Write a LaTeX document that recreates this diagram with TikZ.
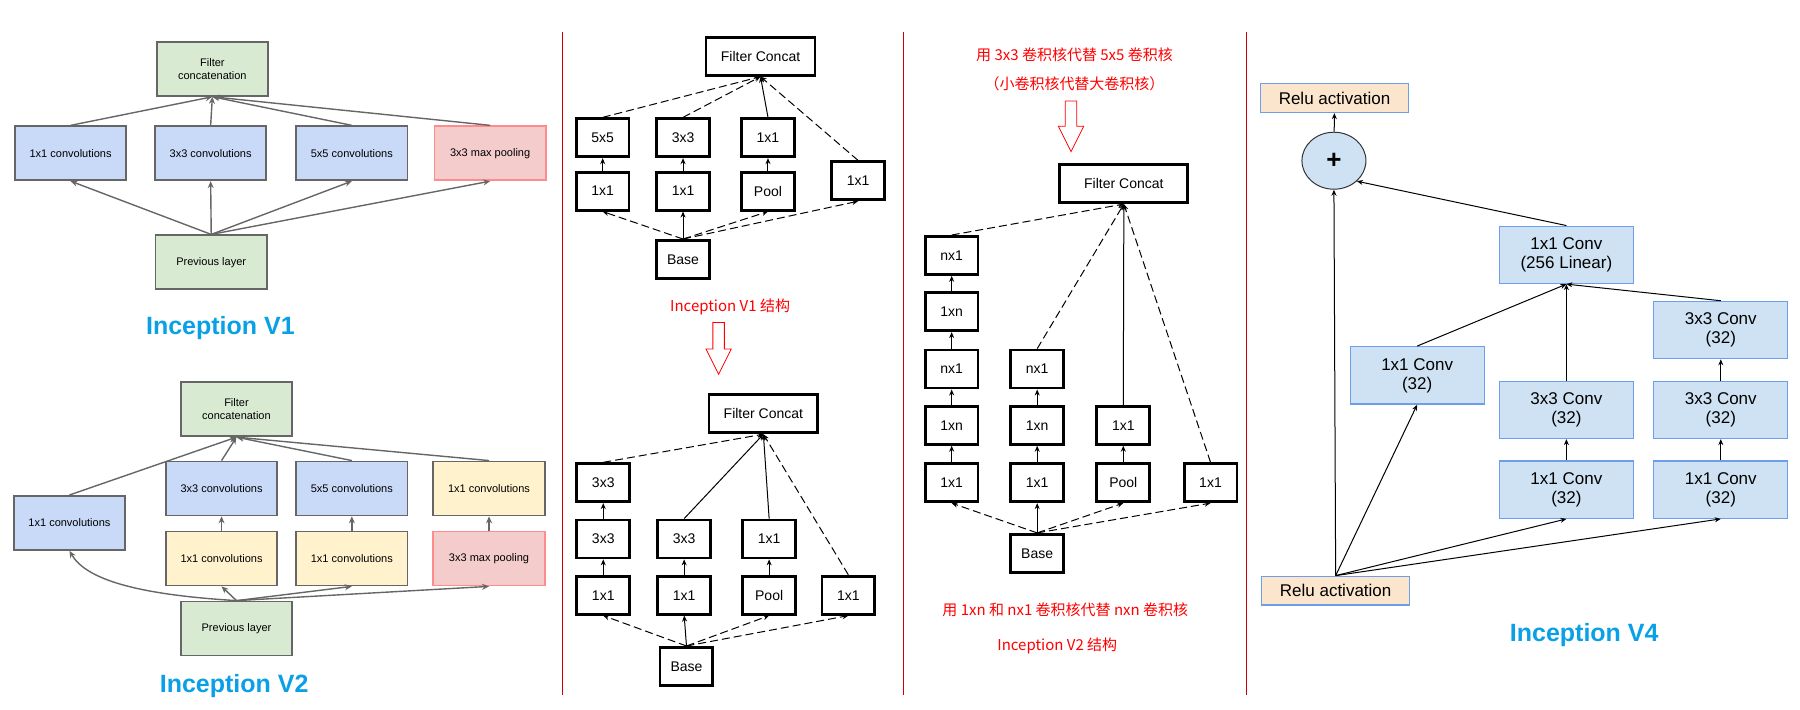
\documentclass[tikz,border=0pt]{standalone}
\usepackage{fontspec}
\setmainfont{Liberation Sans}
\newfontfamily\cjk{Noto Sans CJK SC}
\usetikzlibrary{arrows.meta,shapes.geometric}
\definecolor{gblue}{HTML}{C9DAF8}
\definecolor{ggreen}{HTML}{D9EAD3}
\definecolor{gred}{HTML}{F4CCCC}
\definecolor{gyel}{HTML}{FFF2CC}
\definecolor{v4b}{HTML}{CFE2F3}
\definecolor{v4e}{HTML}{6D9EEB}
\definecolor{relu}{HTML}{FCE5CD}
\definecolor{ttl}{HTML}{0AA0E6}
\tikzset{
 gbox/.style={draw=black!60,line width=0.9pt,minimum width=55.7pt,minimum height=27pt,inner sep=0,font=\fontsize{5.5}{6.5}\selectfont,align=center},
 bbox/.style={draw,line width=1.4pt,minimum width=26.4pt,minimum height=19pt,inner sep=0,font=\fontsize{7}{8}\selectfont},
 fbox/.style={bbox,minimum width=54.5pt},
 vbox/.style={draw=v4e,fill=v4b,line width=0.6pt,minimum width=67pt,minimum height=28.7pt,inner sep=0,align=center,font=\fontsize{8.5}{9.5}\selectfont},
 rbox/.style={draw=v4e,fill=relu,line width=0.6pt,minimum width=74pt,minimum height=14.4pt,inner sep=0,font=\fontsize{8.5}{9.5}\selectfont},
 ga/.style={draw=black!60,line width=0.7pt,-{Stealth[length=3.5pt,width=3pt]}},
 da/.style={dashed,dash pattern=on 4pt off 2pt,line width=0.5pt,-{Stealth[length=3pt,width=2.5pt]}},
 sa/.style={line width=0.5pt,-{Stealth[length=3pt,width=2.5pt]}},
 title/.style={text=ttl,font=\bfseries\fontsize{12.5}{14}\selectfont},
 rtext/.style={text=red,font=\cjk\fontsize{7.5}{9}\selectfont},
 redline/.style={draw=red!80!black,line width=0.6pt},
 harrow/.style={draw=red,line width=0.4pt}
}
\begin{document}
\begin{tikzpicture}[x=0.574pt,y=-0.574pt]
\useasboundingbox (0,0) rectangle (1568,618);
% red separators
\draw[redline] (490,28) -- (490,605);
\draw[redline] (787,28) -- (787,605);
\draw[redline] (1086,28) -- (1086,605);
% ===== Inception V1 =====
\node[gbox,fill=ggreen] (c1) at (185,60) {Filter\\concatenation};
\node[gbox,fill=gblue] (a1) at (61.5,133.5) {1x1 convolutions};
\node[gbox,fill=gblue] (a2) at (183.5,133.5) {3x3 convolutions};
\node[gbox,fill=gblue] (a3) at (306.5,133.5) {5x5 convolutions};
\node[gbox,fill=gred,draw=red!45] (a4) at (427,133.5) {3x3 max pooling};
\node[gbox,fill=ggreen] (p1) at (184,228.5) {Previous layer};
\foreach \n in {a1,a2,a3,a4} {\draw[ga] (\n.north) -- (c1.south);}
\foreach \n in {a1,a2,a3,a4} {\draw[ga] (p1.north) -- (\n.south);}
\node[title] (t1) at (192,286) {Inception V1};
% ===== Inception V2 =====
\node[gbox,fill=ggreen] (c2) at (206,356.5) {Filter\\concatenation};
\node[gbox,fill=gblue] (b1) at (60.5,455.5) {1x1 convolutions};
\node[gbox,fill=gblue] (b2) at (193,425.5) {3x3 convolutions};
\node[gbox,fill=gblue] (b3) at (306.5,425.5) {5x5 convolutions};
\node[gbox,fill=gyel] (b4) at (426,425.5) {1x1 convolutions};
\node[gbox,fill=gyel] (y2) at (193,486.5) {1x1 convolutions};
\node[gbox,fill=gyel] (y3) at (306.5,486.5) {1x1 convolutions};
\node[gbox,fill=gred,draw=red!45] (y4) at (426,486.5) {3x3 max pooling};
\node[gbox,fill=ggreen] (p2) at (206,547.5) {Previous layer};
\foreach \n in {b1,b2,b3,b4} {\draw[ga] (\n.north) -- (c2.south);}
\draw[ga] (y2) -- (b2); \draw[ga] (y3) -- (b3); \draw[ga] (y4) -- (b4);
\draw[ga] (p2.north) .. controls (120,518) and (75,505) .. (b1.south);
\draw[ga] (p2.north) -- (y2.south);
\draw[ga] (p2.north) -- (y3.south);
\draw[ga] (p2.north) -- (y4.south);
\node[title] (t2) at (204,598) {Inception V2};
% ===== middle: V1 structure =====
\node[fbox] (f1) at (662.5,49) {Filter Concat};
\node[bbox] (m55) at (525,120) {5x5};
\node[bbox] (m33) at (595,120) {3x3};
\node[bbox] (m11) at (669,120) {1x1};
\node[bbox] (n1) at (525,166.5) {1x1};
\node[bbox] (n2) at (595,166.5) {1x1};
\node[bbox] (n3) at (669,166.5) {Pool};
\node[bbox] (n4) at (747.5,157.5) {1x1};
\node[bbox] (bs1) at (595,226) {Base};
\draw[da] (m55.north) -- (f1.south);
\draw[da] (m33.north) -- (f1.south);
\draw[sa] (m11.north) -- (f1.south);
\draw[da] (n4.north) -- (f1.south);
\draw[sa] (n1) -- (m55); \draw[sa] (n2) -- (m33); \draw[sa] (n3) -- (m11);
\draw[da] (bs1.north) -- (n1.south);
\draw[sa] (bs1.north) -- (n2.south);
\draw[da] (bs1.north) -- (n3.south);
\draw[da] (bs1.north) -- (n4.south);
\node[rtext] (l1) at (636,267) {Inception V1 结构};
\draw[harrow] (621,281) -- (631,281) -- (631,304) -- (637,304) -- (626,326) -- (615,304) -- (621,304) -- cycle;
\node[fbox] (f2) at (665,360.5) {Filter Concat};
\node[bbox] (q1) at (525.5,420.5) {3x3};
\node[bbox] (q2) at (525.5,469.5) {3x3};
\node[bbox] (q3) at (596,469.5) {3x3};
\node[bbox] (q4) at (670,469.5) {1x1};
\node[bbox] (r1) at (525.5,518.5) {1x1};
\node[bbox] (r2) at (596,518.5) {1x1};
\node[bbox] (r3) at (670,518.5) {Pool};
\node[bbox] (r4) at (739,518.5) {1x1};
\node[bbox] (bs2) at (598,580.5) {Base};
\draw[da] (q1.north) -- (f2.south);
\draw[sa] (q3.north) -- (f2.south);
\draw[sa] (q4.north) -- (f2.south);
\draw[da] (r4.north) -- (f2.south);
\draw[sa] (q2) -- (q1); \draw[sa] (r1) -- (q2); \draw[sa] (r2) -- (q3); \draw[sa] (r3) -- (q4);
\draw[da] (bs2.north) -- (r1.south);
\draw[sa] (bs2.north) -- (r2.south);
\draw[da] (bs2.north) -- (r3.south);
\draw[da] (bs2.north) -- (r4.south);
% ===== right-middle: V2 structure =====
\node[rtext] (h1) at (936,48) {用 3x3 卷积核代替 5x5 卷积核};
\node[rtext] (h2) at (936,73) {（小卷积核代替大卷积核）};
\draw[harrow] (928,88) -- (938,88) -- (938,110) -- (944,110) -- (933,132) -- (922,110) -- (928,110) -- cycle;
\node[fbox,minimum width=64pt] (f3) at (979,160) {Filter Concat};
\node[bbox] (k1) at (829,222.5) {nx1};
\node[bbox] (k2) at (829,271.5) {1xn};
\node[bbox] (k3) at (829,321.5) {nx1};
\node[bbox] (k4) at (829,370.5) {1xn};
\node[bbox] (k5) at (829,420.5) {1x1};
\node[bbox] (j3) at (903.5,321.5) {nx1};
\node[bbox] (j4) at (903.5,370.5) {1xn};
\node[bbox] (j5) at (903.5,420.5) {1x1};
\node[bbox] (i4) at (978.5,370.5) {1x1};
\node[bbox] (i5) at (978.5,420.5) {Pool};
\node[bbox] (h5) at (1054.5,420.5) {1x1};
\node[bbox] (bs3) at (903.5,482) {Base};
\draw[da] (k1.north) -- (f3.south);
\draw[da] (j3.north) -- (f3.south);
\draw[sa] (i4.north) -- (f3.south);
\draw[da] (h5.north) -- (f3.south);
\draw[sa] (k2) -- (k1); \draw[sa] (k3) -- (k2); \draw[sa] (k4) -- (k3); \draw[sa] (k5) -- (k4);
\draw[sa] (j4) -- (j3); \draw[sa] (j5) -- (j4); \draw[sa] (i5) -- (i4);
\draw[da] (bs3.north) -- (k5.south);
\draw[sa] (bs3.north) -- (j5.south);
\draw[da] (bs3.north) -- (i5.south);
\draw[da] (bs3.north) -- (h5.south);
\node[rtext] (l2) at (928,531) {用 1xn 和 nx1 卷积核代替 nxn 卷积核};
\node[rtext] (l3) at (921,563) {Inception V2 结构};
% ===== Inception V4 =====
\node[rbox] (ru1) at (1162.5,85.5) {Relu activation};
\node[ellipse,draw=black!80,fill=v4b,line width=0.5pt,minimum width=32pt,minimum height=28.5pt,inner sep=0,font=\bfseries\fontsize{13}{13}\selectfont] (pl) at (1162,140) {+};
\node[vbox] (v0) at (1364.5,222) {1x1 Conv\\(256 Linear)};
\node[vbox] (v1) at (1234.5,327) {1x1 Conv\\(32)};
\node[vbox] (v2) at (1364.5,357) {3x3 Conv\\(32)};
\node[vbox] (v3) at (1364.5,426.5) {1x1 Conv\\(32)};
\node[vbox] (w1) at (1499,287.5) {3x3 Conv\\(32)};
\node[vbox] (w2) at (1499,357) {3x3 Conv\\(32)};
\node[vbox] (w3) at (1499,426.5) {1x1 Conv\\(32)};
\node[rbox] (ru2) at (1163.5,514.5) {Relu activation};
\draw[sa] (pl) -- (ru1);
\draw[sa] (v0.north) -- (pl.south east);
\draw[sa] (ru2.north) -- (pl.south);
\draw[sa] (v1.north) -- (v0.south);
\draw[sa] (v2.north) -- (v0.south);
\draw[sa] (w1.north) -- (v0.south);
\draw[sa] (v3) -- (v2); \draw[sa] (w3) -- (w2); \draw[sa] (w2) -- (w1);
\draw[sa] (ru2.north) -- (v1.south);
\draw[sa] (ru2.north) -- (v3.south);
\draw[sa] (ru2.north) -- (w3.south);
\node[title] (t4) at (1380,553) {Inception V4};
\end{tikzpicture}
\end{document}
